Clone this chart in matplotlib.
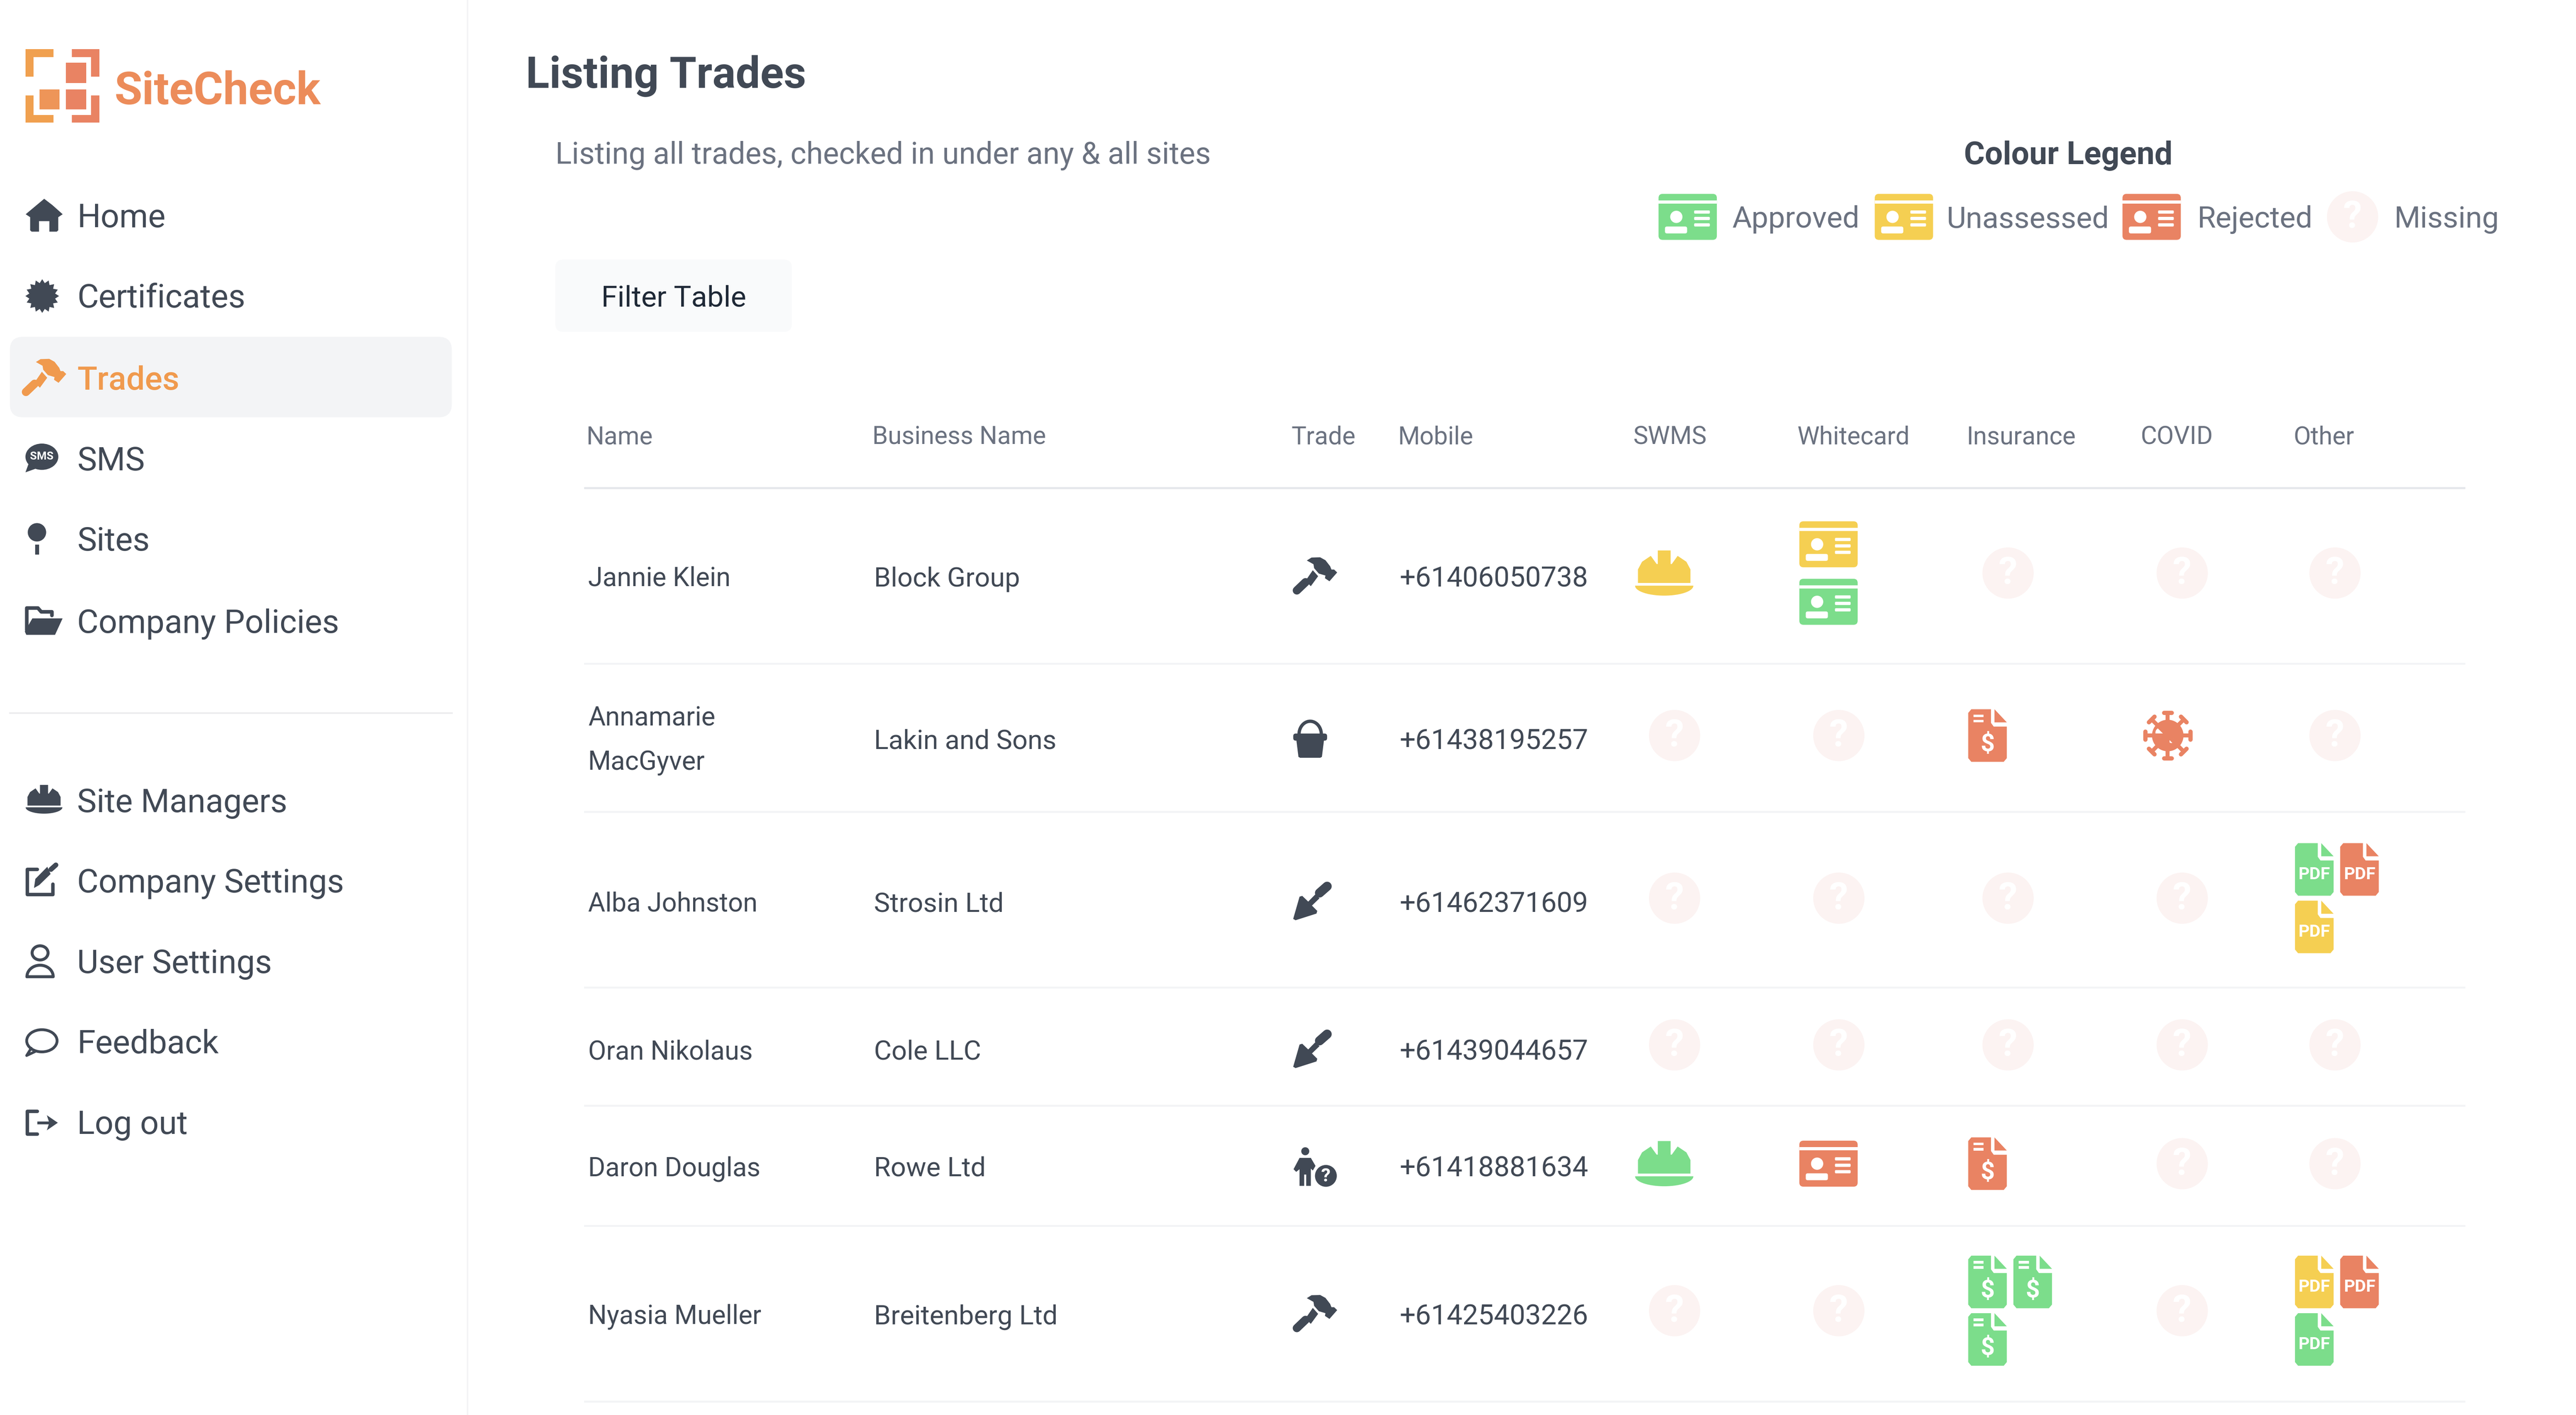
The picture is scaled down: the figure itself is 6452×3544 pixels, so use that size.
import numpy as np
import matplotlib
matplotlib.use("Agg")
import matplotlib.pyplot as plt
from matplotlib.patches import Circle, Ellipse, FancyBboxPatch, Polygon, Rectangle

# table content
headers = ["Name", "Business Name", "Trade", "Mobile", "SWMS", "Whitecard", "Insurance", "COVID", "Other"]
names = [["Jannie Klein"], ["Annamarie", "MacGyver"], ["Alba Johnston"], ["Oran Nikolaus"], ["Daron Douglas"], ["Nyasia Mueller"]]
businesses = ["Block Group", "Lakin and Sons", "Strosin Ltd", "Cole LLC", "Rowe Ltd", "Breitenberg Ltd"]
trades = ["hammer", "bucket", "trowel", "trowel", "person", "hammer"]
mobiles = ["+61406050738", "+61438195257", "+61462371609", "+61439044657", "+61418881634", "+61425403226"]
swms = [["unassessed"], [], [], [], ["approved"], []]
whitecard = [["unassessed", "approved"], [], [], [], ["rejected"], []]
insurance = [[], ["rejected"], [], [], ["rejected"], ["approved", "approved", "approved"]]
covid = [[], ["rejected"], [], [], [], []]
other = [[], [], ["approved", "rejected", "unassessed"], [], [], ["unassessed", "rejected", "approved"]]

nav_top = ["Home", "Certificates", "Trades", "SMS", "Sites", "Company Policies"]
nav_bottom = ["Site Managers", "Company Settings", "User Settings", "Feedback", "Log out"]
legend_labels = ["Approved", "Unassessed", "Rejected", "Missing"]

# layout, in px of a 1568 wide page
S = 6452 / 1568
header_x = [357, 531, 786, 851, 994, 1094, 1197, 1303, 1396]
row_text_y = [351, 450, 549, 639, 710, 800]
row_icon_y = [348.8, 447.7, 546.7, 636, 708.3, 797.8]
row_lines = [404, 494, 601, 673, 746, 853]
nav_top_y = [131, 180, 230, 279, 328, 378]
nav_bottom_y = [487, 536, 585, 634, 683]

DARK = "#414955"
GREY = "#6b7280"
colors = {"approved": "#7cdd8b", "unassessed": "#f5cf52", "rejected": "#e98363"}
MISSING = "#fcf3f2"
ORANGE = "#f09a4e"
CORAL = "#e98363"
UNIT = 1 / (3 * S)  # one px of a 3x crop, in page px

plt.rcParams["font.family"] = ["Roboto", "DejaVu Sans"]
fig = plt.figure(figsize=(64.52, 35.44), dpi=100)
ax = fig.add_axes([0, 0, 1, 1])
ax.set_xlim(0, 6452 / S)
ax.set_ylim(3544 / S, 0)
ax.axis("off")


def pt(px):
    return px * S * 0.72


def txt(x, y, s, size, color=DARK, weight="normal", ha="left"):
    ax.text(x, y + size * 0.36, s, fontsize=pt(size), color=color, fontweight=weight, ha=ha, va="baseline")


def box(x0, y0, x1, y1, color, rad=0.0):
    if rad:
        ax.add_patch(FancyBboxPatch((x0, y0), x1 - x0, y1 - y0, boxstyle=f"round,pad=0,rounding_size={rad}",
                                    fc=color, ec="none"))
    else:
        ax.add_patch(Rectangle((x0, y0), x1 - x0, y1 - y0, fc=color, ec="none"))


def poly(pts, cx, cy, w, h, color):
    pts = np.array(pts, float)
    ax.add_patch(Polygon(np.c_[cx + (pts[:, 0] - 0.5) * w, cy + (pts[:, 1] - 0.5) * h], closed=True, fc=color, ec="none"))


def glyph(pts, centre, cx, cy, color):
    # outline traced in crop px around its own centre
    pts = np.array(pts, float) - centre
    ax.add_patch(Polygon(np.c_[cx + pts[:, 0] * UNIT, cy + pts[:, 1] * UNIT], closed=True, fc=color, ec="none"))


def line(xs, ys, color, width, cap="round"):
    ax.plot(xs, ys, color=color, lw=pt(width), solid_capstyle=cap, solid_joinstyle="round")


def missing_icon(cx, cy, d=31.2):
    ax.add_patch(Circle((cx, cy), d / 2, fc=MISSING, ec="none"))
    ax.text(cx, cy + 0.3, "?", fontsize=pt(23), color="white", fontweight="bold", ha="center", va="center")


def card_icon(cx, cy, color, w=35.5, h=28):
    x0, y0 = cx - w / 2, cy - h / 2
    box(x0, y0, x0 + w, y0 + h, color, 2.5)
    box(x0, y0 + h * 0.14, x0 + w, y0 + h * 0.21, "white")
    ax.add_patch(Circle((x0 + w * 0.305, y0 + h * 0.5), w * 0.105, fc="white", ec="none"))
    box(x0 + w * 0.11, y0 + h * 0.71, x0 + w * 0.49, y0 + h * 0.86, "white", 1.2)
    for f in [0.36, 0.5, 0.64]:
        box(x0 + w * 0.61, y0 + h * f, x0 + w * 0.88, y0 + h * (f + 0.07), "white", 0.6)


def helmet_icon(cx, cy, color, w=35.5, h=27.5):
    poly([(0.05, 0.72), (0.05, 0.42), (0.12, 0.25), (0.27, 0.12), (0.37, 0.3), (0.39, 0.3), (0.39, 0), (0.61, 0),
          (0.61, 0.3), (0.63, 0.3), (0.73, 0.12), (0.88, 0.25), (0.95, 0.42), (0.95, 0.72)], cx, cy, w, h, color)
    t = np.linspace(np.pi, 0, 30)
    poly(np.c_[0.5 + 0.5 * np.cos(t), 0.78 + 0.22 * np.sin(t)], cx, cy, w, h, color)


def doc_shape(cx, cy, color, w, h):
    poly([(0.08, 0), (0.59, 0), (0.59, 0.26), (0.66, 0.33), (1, 0.33), (1, 0.93), (0.92, 1), (0.08, 1), (0, 0.93), (0, 0.07)],
         cx, cy, w, h, color)
    poly([(0.68, 0), (1, 0.25), (0.68, 0.25)], cx, cy, w, h, color)


def doc_icon(cx, cy, color, w=23.5, h=32):
    doc_shape(cx, cy, color, w, h)
    for f in [0.1, 0.2]:
        box(cx - w * 0.36, cy - h / 2 + h * f, cx - w * 0.1, cy - h / 2 + h * (f + 0.05), "white")
    ax.text(cx, cy + h * 0.17, "$", fontsize=pt(15), color="white", fontweight="bold", ha="center", va="center")


def pdf_icon(cx, cy, color, w=23.5, h=32):
    doc_shape(cx, cy, color, w, h)
    ax.text(cx, cy + h * 0.1, "PDF", fontsize=pt(10.5), color="white", fontweight="bold", ha="center", va="center")


def virus_icon(cx, cy, color, d=30):
    r = d / 2
    for a in np.linspace(0, 2 * np.pi, 8, endpoint=False):
        c, s = np.cos(a), np.sin(a)
        line([cx, cx + c * r * 0.9], [cy, cy + s * r * 0.9], color, 2.4, "butt")
        line([cx + c * r * 0.92 - s * 2.4, cx + c * r * 0.92 + s * 2.4],
             [cy + s * r * 0.92 + c * 2.4, cy + s * r * 0.92 - c * 2.4], color, 2.6)
    ax.add_patch(Circle((cx, cy), 9.6, fc=color, ec="none"))
    ax.add_patch(Circle((cx - 4.6, cy - 1.8), 2.9, fc="white", ec="none"))
    ax.add_patch(Circle((cx + 2.2, cy + 3), 1.6, fc="white", ec="none"))


def hammer_icon(cx, cy, color):
    c = np.array([221, 186])
    a = (np.array([85, 297]) - c) * UNIT
    b = (np.array([150, 235]) - c) * UNIT
    line([cx + a[0], cx + b[0]], [cy + a[1], cy + b[1]], color, 5)
    glyph([(150, 225), (205, 145), (245, 190), (190, 265)], c, cx, cy, color)
    glyph([(160, 72), (195, 50), (260, 48), (300, 70), (335, 115), (345, 140), (365, 140), (388, 162), (330, 228),
           (296, 205), (300, 185), (250, 170), (215, 130), (210, 100)], c, cx, cy, color)


def bucket_icon(cx, cy, color):
    t = np.linspace(np.pi, 0, 24)
    ax.plot(cx + 6.8 * np.cos(t), cy - 3 - 8 * np.sin(t), color=color, lw=pt(2))
    box(cx - 10.3, cy - 3.5, cx + 10.3, cy + 0.8, color, 1.5)
    poly([(0, 0), (1, 0), (0.92, 0.95), (0.86, 1), (0.14, 1), (0.08, 0.95)], cx, cy + 5.5, 17, 11.5, color)


def trowel_icon(cx, cy, color):
    c = np.array([202, 259])
    glyph([(57, 395), (105, 228), (125, 222), (170, 265), (222, 212), (255, 240), (198, 295), (238, 335), (232, 355), (75, 405)],
          c, cx, cy, color)
    a = (np.array([255, 200]) - c) * UNIT
    b = (np.array([312, 150]) - c) * UNIT
    line([cx + a[0], cx + b[0]], [cy + a[1], cy + b[1]], color, 5.6)


def person_icon(cx, cy, color):
    c = np.array([222, 218])
    ax.add_patch(Circle((cx + (148 - 222) * UNIT, cy + (100 - 218) * UNIT), 30 * UNIT, fc=color, ec="none"))
    glyph([(60, 235), (105, 150), (190, 150), (225, 210), (205, 245), (190, 230), (190, 360), (155, 360), (155, 275),
           (140, 275), (140, 360), (105, 360), (105, 235), (80, 255)], c, cx, cy, color)
    qx, qy = cx + (303 - 222) * UNIT, cy + (285 - 218) * UNIT
    ax.add_patch(Circle((qx, qy), 82 * UNIT, fc=color, ec="none"))
    ax.text(qx, qy + 0.2, "?", fontsize=pt(11.5), color="white", fontweight="bold", ha="center", va="center")


def home_icon(cx, cy, color):
    poly([(0.5, 0), (0.72, 0.19), (1, 0.47), (0.88, 0.56), (0.88, 0.96), (0.84, 1), (0.64, 1), (0.64, 0.68), (0.36, 0.68),
          (0.36, 1), (0.16, 1), (0.12, 0.96), (0.12, 0.56), (0, 0.47)], cx, cy, 22.5, 20, color)


def cert_icon(cx, cy, color):
    a = np.linspace(0, 2 * np.pi, 32, endpoint=False)
    r = np.where(np.arange(32) % 2 == 0, 0.5, 0.39)
    poly(np.c_[0.5 + r * np.cos(a), 0.5 + r * np.sin(a)], cx, cy, 20.5, 20.5, color)


def sms_icon(cx, cy, color):
    ax.add_patch(Ellipse((cx, cy - 1), 20, 16, fc=color, ec="none"))
    ax.add_patch(Polygon([(cx - 8, cy + 3), (cx - 3, cy + 6), (cx - 10, cy + 8.5)], closed=True, fc=color, ec="none"))
    ax.text(cx, cy - 1, "SMS", fontsize=pt(6.8), color="white", fontweight="bold", ha="center", va="center")


def pin_icon(cx, cy, color):
    line([cx, cx], [cy + 3.5, cy + 9.5], color, 2.4, "butt")
    ax.add_patch(Circle((cx, cy - 4), 5.6, fc=color, ec="none"))


def folder_icon(cx, cy, color):
    line([cx - 10.3, cx - 10.3, cx - 3.5, cx - 1.5, cx + 5, cx + 5],
         [cy + 6, cy - 7.5, cy - 7.5, cy - 5.2, cy - 5.2, cy - 3], color, 2.2)
    poly([(0.2, 0), (1, 0), (0.8, 1), (0.04, 1), (0, 0.8)], cx, cy + 3.8, 23, 10, color)


def edit_icon(cx, cy, color):
    line([cx - 2.3, cx - 8.4, cx - 8.4, cx + 7, cx + 7], [cy - 7, cy - 7, cy + 8.3, cy + 8.3, cy + 2], color, 2.1)
    ax.add_patch(Polygon([(cx - 4.3, cy + 4.5), (cx - 3.5, cy - 1), (cx + 3.8, cy - 8.4), (cx + 5.8, cy - 4), (cx - 1.1, cy + 2.7)],
                         closed=True, fc=color, ec="none"))
    line([cx + 6, cx + 9], [cy - 6.8, cy - 9.5], color, 3)


def user_icon(cx, cy, color):
    ax.add_patch(Ellipse((cx, cy - 5), 9.7, 8.6, fc="none", ec=color, lw=pt(1.8)))
    t = np.linspace(np.pi, 0, 24)
    xs = np.r_[cx + 8 * np.cos(t), cx - 8]
    ys = np.r_[cy + 9.5 - 7 * np.sin(t), cy + 9.5]
    line(xs, ys, color, 1.8)


def comment_icon(cx, cy, color):
    ax.add_patch(Ellipse((cx, cy - 0.5), 18.5, 13.5, fc="white", ec=color, lw=pt(1.7)))
    line([cx - 6.5, cx - 9.3, cx - 4], [cy + 4, cy + 8.5, cy + 6], color, 1.6)


def logout_icon(cx, cy, color):
    line([cx - 2.8, cx - 8.9, cx - 8.9, cx - 2.8], [cy - 6.6, cy - 6.6, cy + 7.3, cy + 7.3], color, 2.1)
    line([cx - 2.8, cx + 5], [cy + 0.4, cy + 0.4], color, 1.7, "butt")
    ax.add_patch(Polygon([(cx + 3, cy - 4.2), (cx + 9.7, cy + 0.4), (cx + 3, cy + 5), (cx + 4.5, cy + 0.4)],
                         closed=True, fc=color, ec="none"))


def draw_logo():
    left, right = "#f0a04f", CORAL
    for x0, x1, c in [(15.6, 32.5, left), (43.7, 60.4, right)]:
        box(x0, 29.9, x1, 34.7, c)
        box(x0, 70.1, x1, 74.7, c)
    box(15.6, 29.9, 20.5, 46.7, left)
    box(15.6, 58, 20.5, 74.7, left)
    box(55.5, 29.9, 60.4, 46.7, right)
    box(55.5, 58, 60.4, 74.7, right)
    box(40, 38.1, 52.4, 50.5, right)
    box(24, 54.4, 36.3, 66.5, "#ee9558")
    box(40, 54.4, 52.4, 66.5, right)
    ax.text(69.5, 63.5, "SiteCheck", fontsize=pt(27.5), color="#ec8c5a", fontweight="bold", ha="left", va="baseline")


# sidebar
draw_logo()
ax.plot([284.5, 284.5], [0, 870], color="#f3f4f6", lw=pt(1))
box(6, 205, 275, 254, "#f3f4f6", 8)
ax.plot([6, 275], [434, 434], color="#ececee", lw=pt(1))

home_icon(26.9, 131, DARK)
cert_icon(25.7, 180.2, DARK)
hammer_icon(26.8, 229.6, ORANGE)
sms_icon(25.5, 279, DARK)
pin_icon(22.5, 328, DARK)
folder_icon(26.6, 377.6, DARK)
helmet_icon(26.8, 486.5, DARK, 22.4, 17.5)
edit_icon(25, 536, DARK)
user_icon(24.4, 585, DARK)
comment_icon(25.5, 634, DARK)
logout_icon(25.5, 683, DARK)

for label, y in zip(nav_top, nav_top_y):
    txt(47, y, label, 20, ORANGE if label == "Trades" else DARK, "medium" if label == "Trades" else "normal")
for label, y in zip(nav_bottom, nav_bottom_y):
    txt(47, y, label, 20)

# heading and legend
txt(320, 44, "Listing Trades", 26.5, DARK, "bold")
txt(338, 93, "Listing all trades, checked in under any & all sites", 18.4, GREY)
txt(1259, 93, "Colour Legend", 19.4, DARK, "bold", ha="center")
legend_icon_x = [1027.3, 1158.9, 1309.7, 1432]
legend_text_x = [1054.5, 1185, 1337.5, 1457.5]
for label, ix, tx in zip(legend_labels, legend_icon_x, legend_text_x):
    if label == "Missing":
        missing_icon(ix, 132)
    else:
        card_icon(ix, 132, colors[label.lower()])
    txt(tx, 132, label, 18.2, GREY)

box(338, 158, 482, 202, "#f9fafb", 5)
txt(410, 180, "Filter Table", 17.8, "#1f2937", ha="center")

# table
for label, x in zip(headers, header_x):
    txt(x, 265, label, 15.2, GREY)
ax.plot([356, 1500], [297, 297], color="#e5e7eb", lw=pt(1.2))
for y in row_lines:
    ax.plot([356, 1500], [y, y], color="#f3f4f6", lw=pt(1.2))

trade_draw = {
    "hammer": lambda y: hammer_icon(800.4, y - 0.6, DARK),
    "bucket": lambda y: bucket_icon(797.5, y, DARK),
    "trowel": lambda y: trowel_icon(798.9, y - 0.7, DARK),
    "person": lambda y: person_icon(800.5, y + 0.3, DARK),
}

# icon centre offset from the column's left edge and wrapping of each column
columns = [
    (swms, header_x[4], helmet_icon, 19, 1),
    (whitecard, header_x[5], card_icon, 19, 1),
    (insurance, header_x[6], doc_icon, 12.8, 2),
    (covid, header_x[7], virus_icon, 16.5, 1),
    (other, header_x[8], pdf_icon, 12.7, 2),
]

for i in range(len(names)):
    lines = names[i]
    if len(lines) == 2:
        txt(358, 436, lines[0], 16)
        txt(358, 463, lines[1], 16)
    else:
        txt(358, row_text_y[i], lines[0], 16)
    txt(532, row_text_y[i], businesses[i], 16.4)
    txt(852, row_text_y[i], mobiles[i], 17)
    trade_draw[trades[i]](row_text_y[i])

    for values, x0, icon, off, per_line in columns:
        cell = values[i]
        if not cell:
            missing_icon(x0 + 25.3, row_icon_y[i])
            continue
        n_lines = int(np.ceil(len(cell) / per_line))
        for k, status in enumerate(cell):
            col, ln = k % per_line, k // per_line
            cy = row_icon_y[i] + (ln - (n_lines - 1) / 2) * 35
            icon(x0 + off + col * 27.5, cy, colors[status])

fig.savefig("out.png", dpi=100, facecolor="white")
